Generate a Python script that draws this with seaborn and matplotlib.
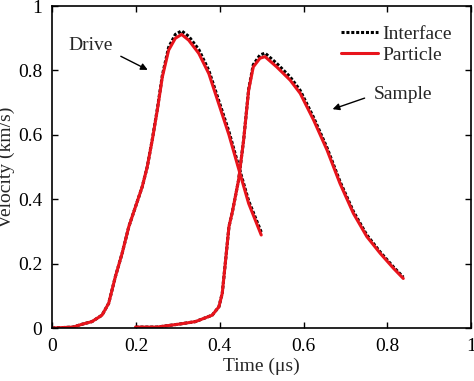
import matplotlib.pyplot as plt
import seaborn as sns

# Drive pulse (time in us, velocity in km/s)
drive_t = [0.0, 0.05, 0.072, 0.095, 0.119, 0.135, 0.151, 0.167, 0.183, 0.199, 0.215, 0.227,
           0.239, 0.251, 0.263, 0.278, 0.294, 0.309, 0.326, 0.350, 0.374, 0.398, 0.422,
           0.447, 0.469, 0.499]
drive_particle = [0.0, 0.003, 0.012, 0.02, 0.04, 0.077, 0.16, 0.232, 0.315, 0.377, 0.439, 0.501,
                  0.584, 0.677, 0.78, 0.863, 0.90, 0.912, 0.894, 0.853, 0.79, 0.695, 0.60,
                  0.486, 0.387, 0.289]
drive_interface = [0.0, 0.003, 0.012, 0.02, 0.04, 0.077, 0.16, 0.232, 0.315, 0.377, 0.439, 0.501,
                   0.586, 0.68, 0.785, 0.872, 0.912, 0.923, 0.906, 0.865, 0.80, 0.705, 0.61,
                   0.494, 0.395, 0.298]

# Sample pulse
sample_t = [0.199, 0.25, 0.302, 0.342, 0.382, 0.398, 0.406, 0.414, 0.422, 0.430, 0.445, 0.457,
            0.469, 0.480, 0.496, 0.508, 0.536, 0.568, 0.592, 0.624, 0.656, 0.687, 0.719,
            0.751, 0.783, 0.815, 0.838]
sample_particle = [0.003, 0.003, 0.012, 0.02, 0.04, 0.066, 0.108, 0.211, 0.315, 0.36, 0.46, 0.584,
                   0.739, 0.811, 0.838, 0.843, 0.811, 0.77, 0.729, 0.646, 0.553, 0.449, 0.356,
                   0.284, 0.232, 0.185, 0.154]
sample_interface = [0.003, 0.003, 0.012, 0.02, 0.04, 0.066, 0.108, 0.211, 0.315, 0.36, 0.46, 0.584,
                    0.742, 0.818, 0.848, 0.854, 0.822, 0.78, 0.738, 0.654, 0.56, 0.455, 0.362,
                    0.289, 0.236, 0.189, 0.158]

ticks = [0, 0.2, 0.4, 0.6, 0.8, 1]
tick_labels = ["0", "0.2", "0.4", "0.6", "0.8", "1"]

sns.set_theme(style="ticks")
plt.rcParams["font.family"] = ["Liberation Serif", "DejaVu Serif"]

fig = plt.figure(figsize=(4.74, 3.81), dpi=100)
ax = fig.add_axes([0.110, 0.139, 0.884, 0.845])

black = "#000000"
red = "#e8141c"

sns.lineplot(x=drive_t, y=drive_interface, ax=ax, color=black, linestyle=(0, (1, 0.6)),
             linewidth=2.2, sort=False, estimator=None, label="Interface")
sns.lineplot(x=sample_t, y=sample_interface, ax=ax, color=black, linestyle=(0, (1, 0.6)),
             linewidth=2.2, sort=False, estimator=None)
sns.lineplot(x=drive_t, y=drive_particle, ax=ax, color=red, linewidth=2.2,
             sort=False, estimator=None, label="Particle")
sns.lineplot(x=sample_t, y=sample_particle, ax=ax, color=red, linewidth=2.2,
             sort=False, estimator=None)

ax.set_xlim(0, 1)
ax.set_ylim(0, 1)
ax.set_xticks(ticks)
ax.set_xticklabels(tick_labels)
ax.set_yticks(ticks)
ax.set_yticklabels(tick_labels)
ax.tick_params(direction="in", top=True, right=True, length=4, width=1,
               labelsize=14, colors="black", pad=7)
for s in ax.spines.values():
    s.set_linewidth(1.2)
    s.set_color("black")

ax.set_xlabel("Time (μs)", fontsize=14, labelpad=2)
ax.set_ylabel("Velocity (km/s)", fontsize=14, labelpad=2)

ax.annotate("", xy=(0.234, 0.798), xytext=(0.158, 0.848),
            arrowprops=dict(arrowstyle="-|>", color="black", lw=1, mutation_scale=10))
ax.text(0.091, 0.879, "Drive", fontsize=14, ha="center", va="center")
ax.annotate("", xy=(0.663, 0.677), xytext=(0.752, 0.717),
            arrowprops=dict(arrowstyle="-|>", color="black", lw=1, mutation_scale=10))
ax.text(0.838, 0.724, "Sample", fontsize=14, ha="center", va="center")

ax.legend(loc="upper right", frameon=False, fontsize=14, handlelength=1.9,
          handletextpad=0.2, borderaxespad=0.6, labelspacing=0.15)

fig.savefig("out.png", dpi=100)
